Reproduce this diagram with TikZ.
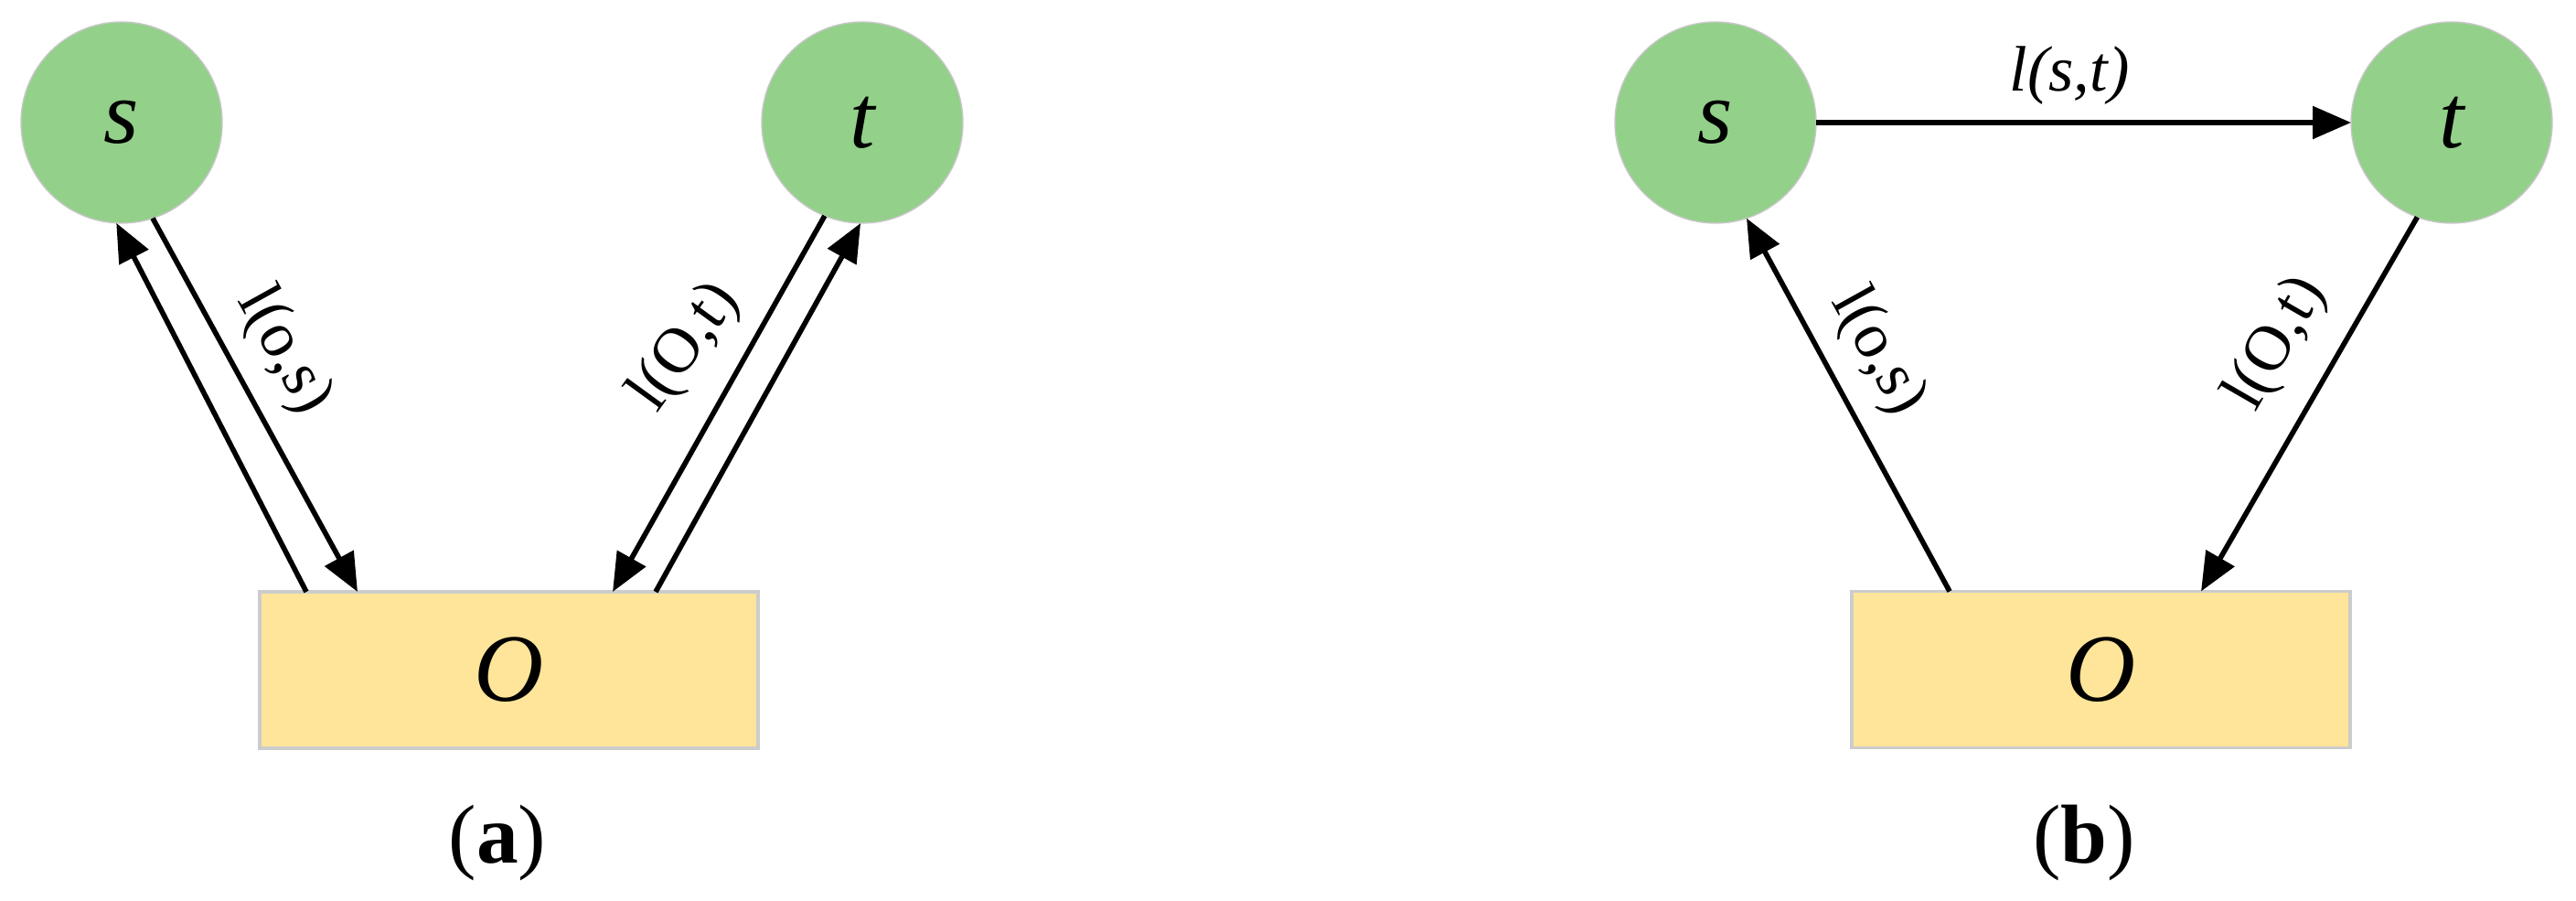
\documentclass[tikz,border=0pt]{standalone}
\usepackage{fontspec}
\setmainfont{Liberation Serif}
\usetikzlibrary{positioning}
\usetikzlibrary{arrows.meta,calc}

\definecolor{nodegreen}{RGB}{147,208,138}
\definecolor{boxyellow}{RGB}{255,229,153}

\begin{document}
\begin{tikzpicture}[
 stn/.style={circle,fill=nodegreen,draw=black!22,thin,minimum size=2.2cm,inner sep=0pt,outer sep=0pt,font=\fontsize{28}{28}\selectfont\itshape},
 depot/.style={rectangle,fill=boxyellow,draw=black!20,line width=1pt,minimum width=5.45cm,minimum height=1.71cm,outer sep=0pt,font=\fontsize{30}{30}\selectfont\itshape},
 arr/.style={-{Triangle[length=4.2mm,width=3.5mm]},line width=1.6pt},
 lbl/.style={font=\fontsize{20}{20}\selectfont},
 captxt/.style={font=\fontsize{26}{26}\selectfont}]
 \useasboundingbox (0,0) rectangle (28.17,9.84);
 % (a) round trips
 \node[stn] (sa) at (1.33,8.50) {s};
 \node[stn] (ta) at (9.43,8.50) {t};
 \node[depot] (oa) at (5.565,2.515) {O};
 \draw[arr] ($(oa.north west)+(0.51,0)$) -- (sa.-93);
 \draw[arr] (sa.-72) -- ($(oa.north west)+(1.07,0)$);
 \draw[arr] (ta.-112) -- ($(oa.north west)+(3.86,0)$);
 \draw[arr] ($(oa.north west)+(4.33,0)$) -- (ta.-91);
 \node[lbl,rotate=-61] (losa) at (3.10,6.00) {l(o,s)};
 \node[lbl,rotate=54] (lota) at (7.50,6.04) {l(O,t)};
 \node[captxt] (capa) at (5.44,0.62) {(\textbf{a})};
 % (b) chained trip
 \node[stn] (sb) at (18.76,8.50) {s};
 \node[stn] (tb) at (26.81,8.50) {t};
 \node[depot] (ob) at (22.975,2.52) {O};
 \draw[arr] (sb) -- (tb);
 \draw[arr] ($(ob.north west)+(1.07,0)$) -- (sb.-72);
 \draw[arr] (tb.-110) -- ($(ob.north west)+(3.82,0)$);
 \node[lbl,font=\fontsize{20}{20}\selectfont\itshape] (lst) at (22.63,9.01) {l(s,t)};
 \node[lbl,rotate=-61] (losb) at (20.53,5.99) {l(o,s)};
 \node[lbl,rotate=60] (lotb) at (24.90,6.08) {l(O,t)};
 \node[captxt] (capb) at (22.79,0.62) {(\textbf{b})};
\end{tikzpicture}
\end{document}
